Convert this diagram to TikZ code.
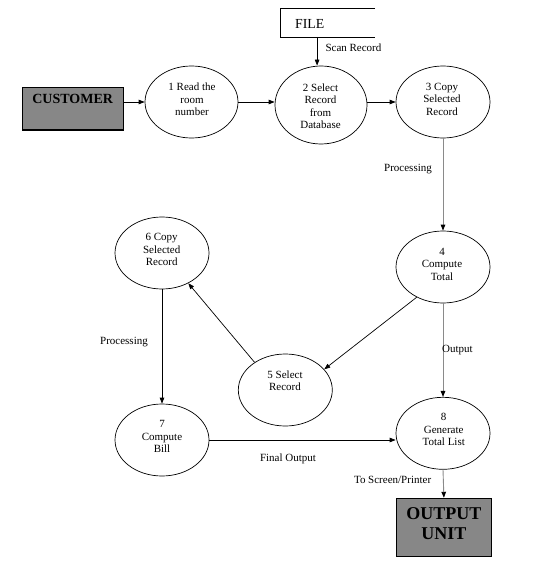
\documentclass[tikz,border=0pt]{standalone}
\usepackage{fontspec}
\setmainfont{Liberation Serif}
\usetikzlibrary{arrows.meta,calc,shapes.geometric}
\definecolor{extgray}{HTML}{878787}
\definecolor{flowgray}{HTML}{8A8A8A}
\begin{document}
\begin{tikzpicture}[x=1pt,y=-1pt,
  proc/.style={draw,ellipse,minimum width=94pt,minimum height=72pt,inner sep=0pt,line width=0.7pt},
  ptext/.style={align=center,font=\fontsize{11}{12.5}\selectfont,inner sep=0pt},
  lbl/.style={font=\fontsize{11}{12.5}\selectfont,inner sep=0pt},
  ext/.style={draw,line width=1.1pt,fill=extgray,inner sep=0pt},
  flow/.style={-{Triangle[length=6pt,width=4.5pt]},line width=0.7pt},
  gflow/.style={-{Triangle[length=6pt,width=4.5pt,color=black]},line width=0.9pt,draw=flowgray}
]
\useasboundingbox (0,0) rectangle (551,561);

% external entities
\node[ext,minimum width=101pt,minimum height=42.7pt] (cust) at (72.8,108.7) {};
\node[inner sep=0pt,font=\fontsize{14}{16}\selectfont\bfseries] (custt) at (72.7,99.3) {CUSTOMER};
\node[ext,minimum width=94.6pt,minimum height=57.7pt] (out) at (443.9,527.2) {};
\node[inner sep=0pt,align=center,font=\fontsize{18}{20}\selectfont\bfseries] (outt) at (443.9,523.3) {OUTPUT\\UNIT};

% data store
\node[minimum width=94pt,minimum height=27.7pt,inner sep=0pt] (file) at (328,22.85) {};
\draw[line width=0.7pt] (file.north east) -- (file.north west) -- (file.south west) -- (file.south east);
\node[inner sep=0pt,font=\fontsize{13.8}{15}\selectfont] (filet) at (309.7,24) {FILE};

% processes
\node[proc,minimum width=93pt] (e1) at (191.5,102) {};
\node[proc,minimum width=92pt,minimum height=78pt] (e2) at (321,105) {};
\node[proc] (e3) at (443,102) {};
\node[proc] (e4) at (443,267) {};
\node[proc] (e5) at (285.3,390) {};
\node[proc] (e6) at (162,253) {};
\node[proc] (e7) at (162,440) {};
\node[proc] (e8) at (443,433.3) {};

\node[ptext] (t1) at (192,99.3) {1 Read the\\room\\number};
\node[ptext] (t2) at (320.5,106) {2 Select\\Record\\from\\Database};
\node[ptext] (t3) at (442,99.3) {3 Copy\\Selected\\Record};
\node[ptext] (t4) at (442,264.3) {4\\Compute\\Total};
\node[ptext] (t5) at (285,380.7) {5 Select\\Record};
\node[ptext] (t6) at (161.7,249.7) {6 Copy\\Selected\\Record};
\node[ptext] (t7) at (162,436.9) {7\\Compute\\Bill};
\node[ptext] (t8) at (443.7,429.8) {8\\Generate\\Total List};

% flows
\draw[flow] (cust.east |- e1.west) -- (e1.west);
\draw[flow] (e1.east) -- (e1.east -| e2.west);
\draw[flow] (e2.east |- e3.west) -- (e3.west);
\coordinate (fa) at ($(file.south west)+(36.3,0)$);
\draw[flow] (fa) -- (fa |- e2.north);
\draw[gflow] (e3.south) -- (e4.north);
\draw[gflow] (e4.south) -- (e8.north);
\draw[gflow] (e8.south) -- (out.north);
\draw[flow] (e4.229) -- (e5.28);
\draw[flow] (e5.138) -- (e6.311);
\draw[flow] (e6.south) -- (e7.north);
\draw[flow] (e7.east) -- (e7.east -| e8.west);

% labels
\node[lbl,anchor=west] (l1) at (325.3,47.3) {Scan Record};
\node[lbl] (l2) at (408,169.3) {Processing};
\node[lbl] (l3) at (457.5,349.7) {Output};
\node[lbl] (l4) at (124,342.3) {Processing};
\node[lbl] (l5) at (288,458.7) {Final Output};
\node[lbl] (l6) at (392.6,480) {To Screen/Printer};
\end{tikzpicture}
\end{document}
